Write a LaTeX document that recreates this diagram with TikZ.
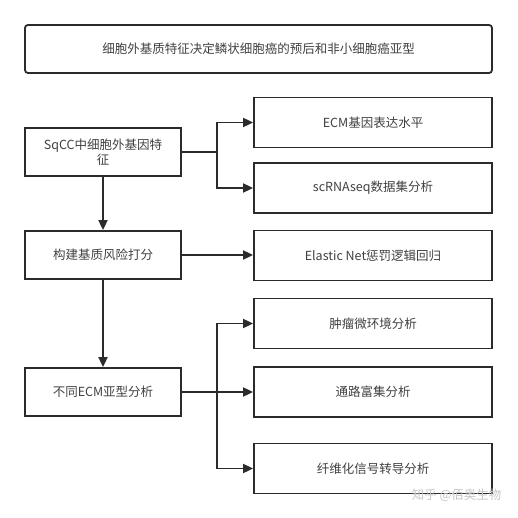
\documentclass[tikz,border=0pt]{standalone}
\usepackage{fontspec}
\setmainfont{Noto Sans CJK SC}
\usetikzlibrary{arrows.meta}
\definecolor{ink}{HTML}{2B2B2B}
\begin{document}
\begin{tikzpicture}[x=1pt,y=-1pt,
  box/.style={draw=ink,line width=1.8pt,minimum height=48pt,inner sep=2pt,align=center,font=\fontsize{12.5}{15.5}\selectfont,text=ink!90},
  lbox/.style={box,minimum width=156pt,text width=150pt},
  rbox/.style={box,minimum width=238pt,minimum height=50pt},
  conn/.style={draw=ink,line width=1.8pt},
  arr/.style={conn,-{Triangle[length=10pt,width=9pt]}}]
\useasboundingbox (0,0) rectangle (517,518);
\node[box,rounded corners=3pt,minimum width=467pt] (title) at (258.5,49) {细胞外基质特征决定鳞状细胞癌的预后和非小细胞癌亚型};
\node[lbox] (a) at (103,152) {SqCC中细胞外基因特\\征};
\node[lbox] (b) at (103,255) {构建基质风险打分};
\node[lbox] (c) at (103,392) {不同ECM亚型分析};
\node[rbox] (r1) at (373,122.5) {ECM基因表达水平};
\node[rbox] (r2) at (373,188) {scRNAseq数据集分析};
\node[rbox] (r3) at (373,255.5) {Elastic Net惩罚逻辑回归};
\node[rbox] (r4) at (373,323.5) {肿瘤微环境分析};
\node[rbox] (r5) at (373,392) {通路富集分析};
\node[rbox] (r6) at (373,468.5) {纤维化信号转导分析};
\coordinate (ja) at (217,152);
\coordinate (jc) at (217,392);
\draw[conn] (a.east) -- (ja);
\draw[arr] (ja) |- (r1.west);
\draw[arr] (ja) |- (r2.west);
\draw[arr] (a.south) -- (b.north);
\draw[arr] (b.east) -- (r3.west |- b.east);
\draw[arr] (b.south) -- (c.north);
\draw[conn] (c.east) -- (jc);
\draw[arr] (jc) |- (r4.west);
\draw[arr] (jc) -- (r5.west);
\draw[arr] (jc) |- (r6.west);
\node[text=gray!45,font=\fontsize{12.5}{14}\selectfont,anchor=east] (wm) at (505,495) {知乎 @佰奥生物};
\end{tikzpicture}
\end{document}
